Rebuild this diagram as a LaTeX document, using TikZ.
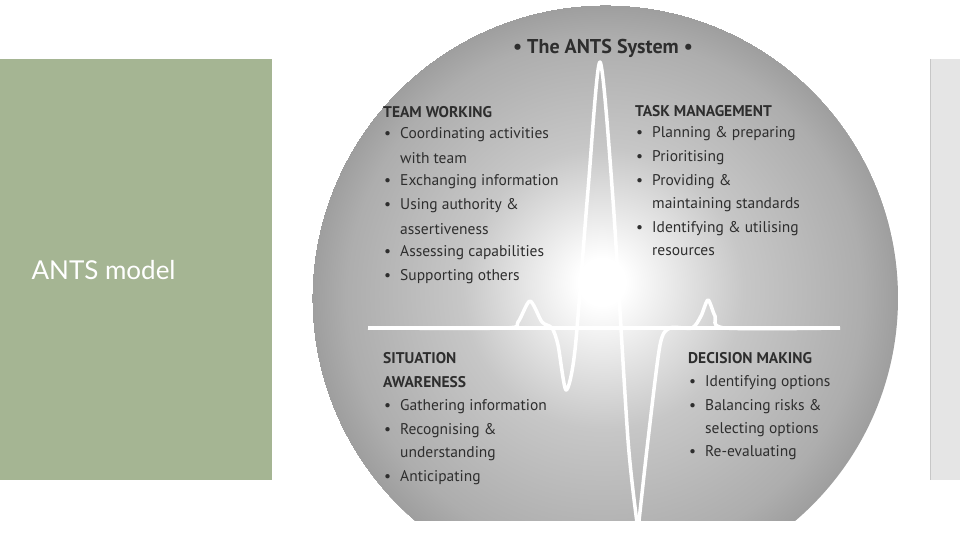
\documentclass[tikz,border=0pt]{standalone}
\usepackage{fontspec}
\setmainfont{PT Sans}
\newfontfamily\latofont{Lato}
\definecolor{sage}{HTML}{A5B593}
\definecolor{txt}{HTML}{2E2E2E}
\pgfdeclareradialshading{antsglow}{\pgfpoint{-0.3bp}{1.5bp}}{color(0bp)=(white); color(2bp)=(white); color(12bp)=(black!22); color(22bp)=(black!32); color(25bp)=(black!38)}
\tikzset{
  head/.style={anchor=west, font=\fontsize{15.5}{15.5}\selectfont\bfseries, text=txt, inner sep=0},
  item/.style={anchor=west, font=\fontsize{15.5}{15.5}\selectfont, text=txt, inner sep=0},
  wave/.style={white, line width=3.5pt, line join=round}
}
\newcommand{\bul}[4]{\node[item] (#1b) at (#2,#3) {\textbullet}; \node[item] (#1) at (#2+16,#3) {#4};}
\begin{document}
\begin{tikzpicture}[x=1pt,y=-1pt]
\useasboundingbox (0,0) rectangle (960,540);
\fill[white] (0,0) rectangle (960,540);
\fill[sage] (0,59) rectangle (272,480);
\node[anchor=west, text=white, font=\latofont\fontsize{26}{26}\selectfont] (title) at (28,270) {ANTS model};
\fill[black!10] (930,59) rectangle (960,480);
\draw[black!22, line width=1.2pt] (930.6,59) -- (930.6,480);
\begin{scope}
\clip (0,0) rectangle (960,520);
\shade[shading=antsglow] (605,298) circle[radius=293];
\draw[wave] (368,328) -- (840,328);
\draw[wave] plot[smooth, tension=0.45] coordinates {(368,328) (505,328) (518,322) (530,301) (542,322) (552,328) (558,345) (566,390) (575,350) (588,190) (600,62) (613,200) (628,440) (638,530)};
\draw[wave] plot[smooth, tension=0.45] coordinates {(638,530) (648,440) (660,345) (670,328) (692,328) (701,316) (708,300) (715,316) (725,328) (840,328)};
\end{scope}
\node[anchor=center, font=\fontsize{20}{20}\selectfont\bfseries, text=txt] (sys) at (603,48) {\textbullet\ The ANTS System \textbullet};
\node[head] (tw) at (383,112) {TEAM WORKING};
\bul{tw1}{384}{135}{Coordinating activities}
\node[item] (tw1x) at (400,158) {with team};
\bul{tw2}{384}{182}{Exchanging information}
\bul{tw3}{384}{206}{Using authority \&}
\node[item] (tw3x) at (400,229) {assertiveness};
\bul{tw4}{384}{253}{Assessing capabilities}
\bul{tw5}{384}{277}{Supporting others}
\node[head] (tm) at (635,111) {TASK MANAGEMENT};
\bul{tm1}{636}{134}{Planning \& preparing}
\bul{tm2}{636}{158}{Prioritising}
\bul{tm3}{636}{182}{Providing \&}
\node[item] (tm3x) at (652,205) {maintaining standards};
\bul{tm4}{636}{229}{Identifying \& utilising}
\node[item] (tm4x) at (652,252) {resources};
\node[head] (sa) at (383,358) {SITUATION};
\node[head] (sa2) at (383,382) {AWARENESS};
\bul{sa1}{384}{407}{Gathering information}
\bul{sa2b}{384}{431}{Recognising \&}
\node[item] (sa2x) at (400,454) {understanding};
\bul{sa3}{384}{478}{Anticipating}
\node[head] (dm) at (688,358) {DECISION MAKING};
\bul{dm1}{689}{383}{Identifying options}
\bul{dm2}{689}{407}{Balancing risks \&}
\node[item] (dm2x) at (705,430) {selecting options};
\bul{dm3}{689}{453}{Re-evaluating}
\end{tikzpicture}
\end{document}
